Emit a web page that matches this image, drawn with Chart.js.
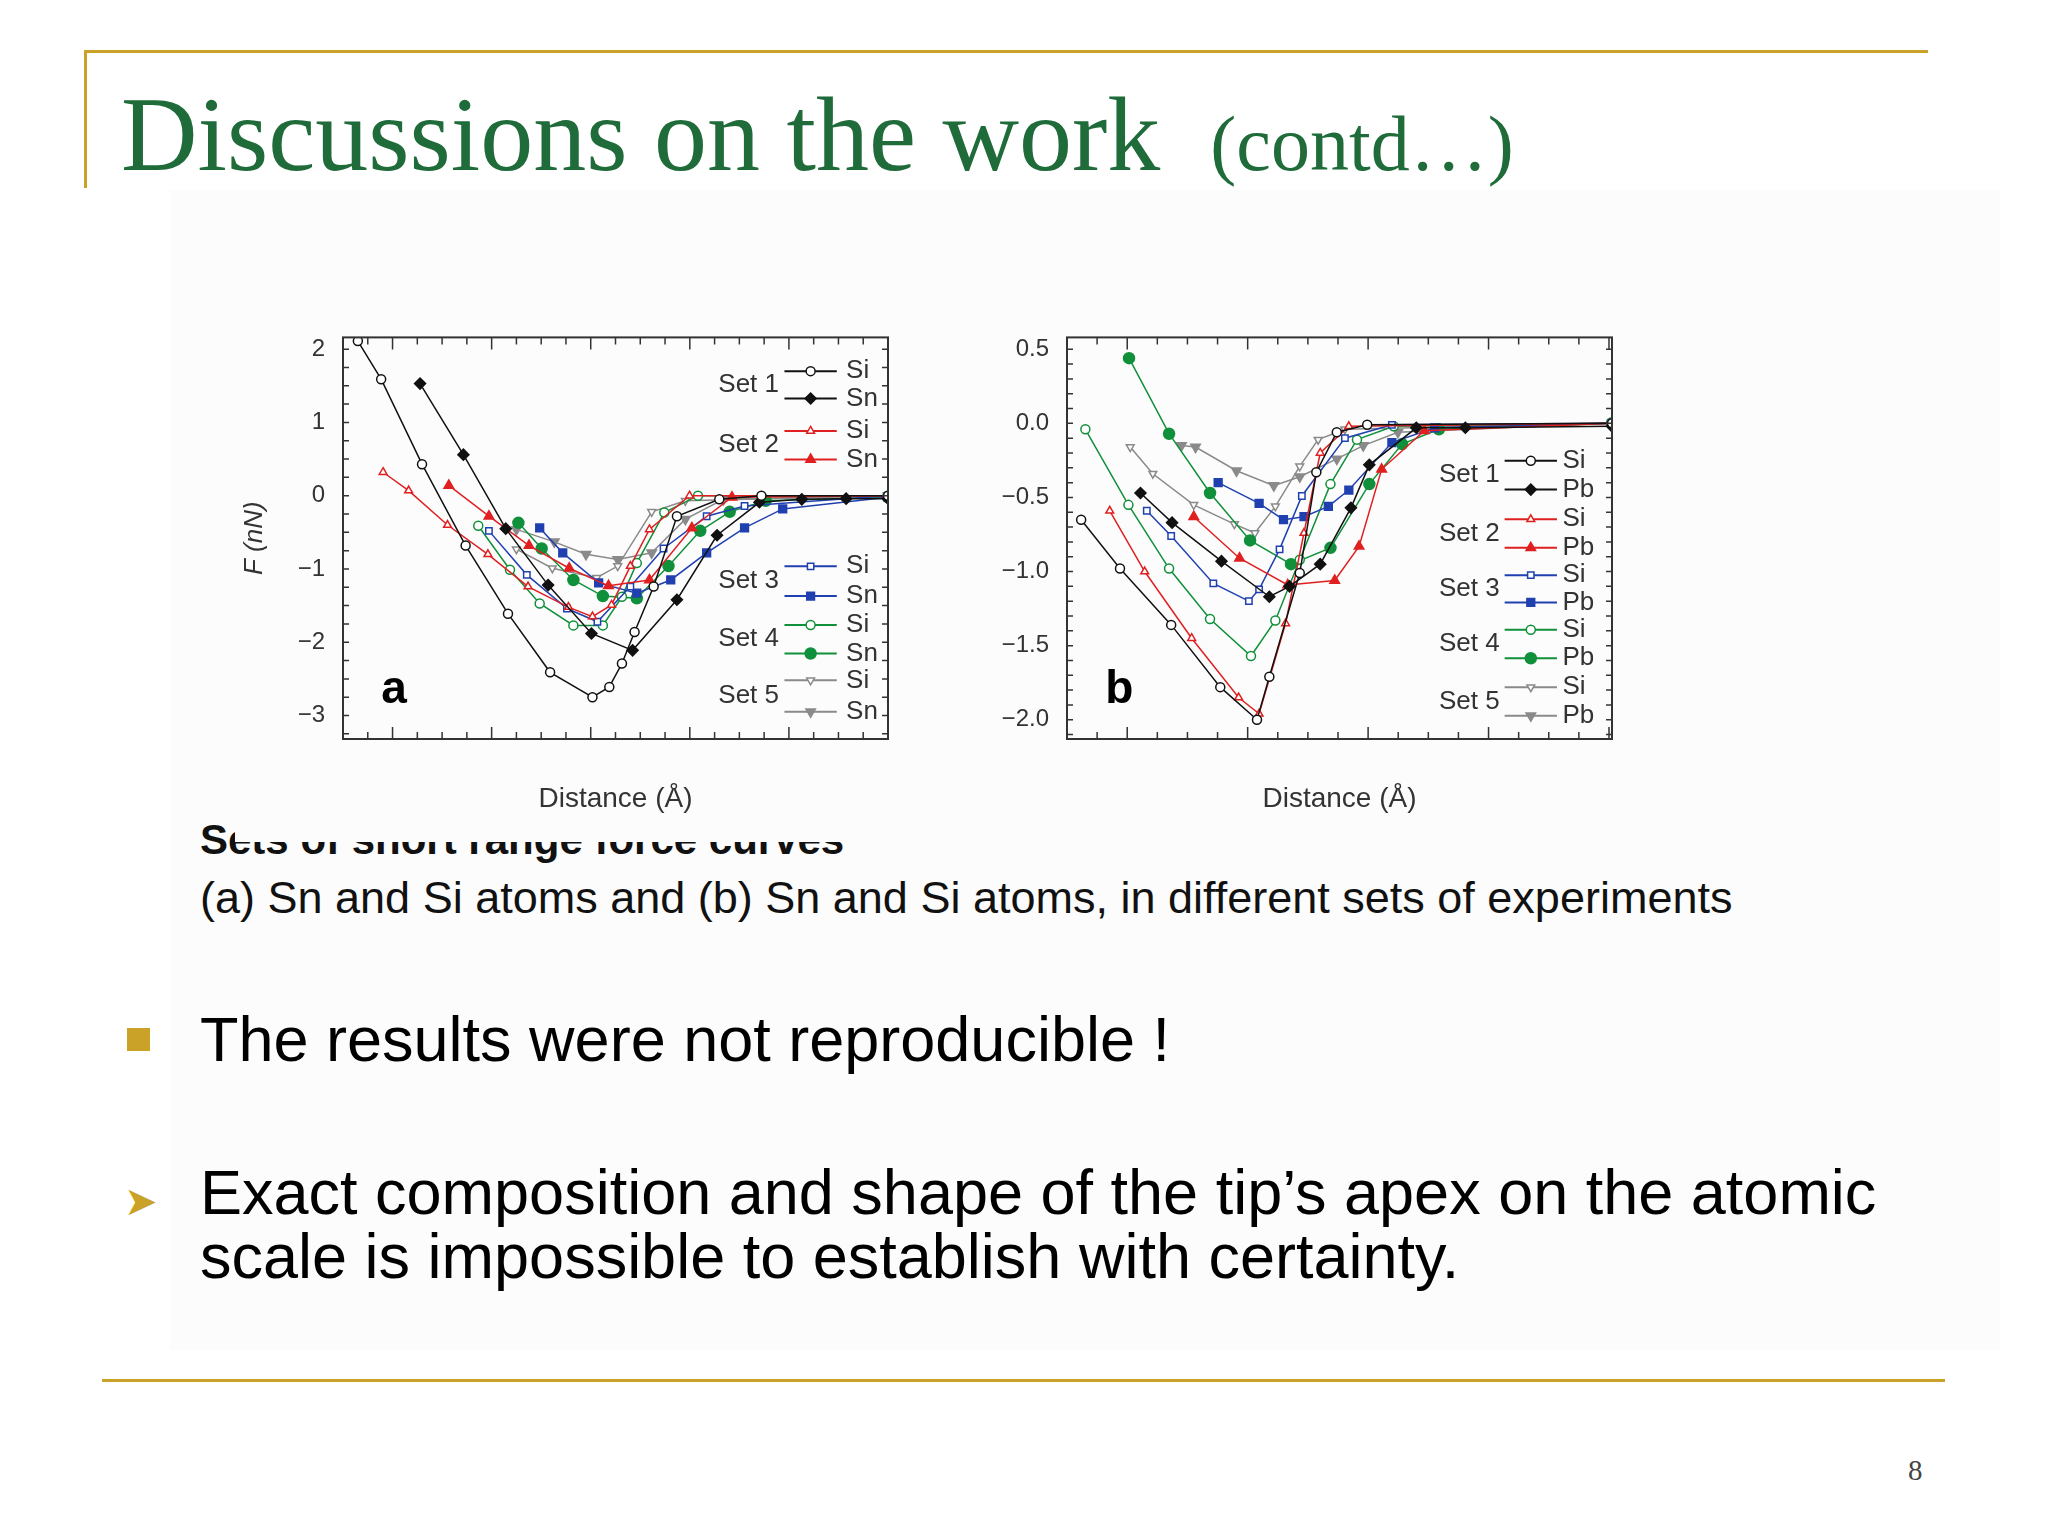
<!DOCTYPE html>
<html>
<head>
<meta charset="utf-8">
<script src="https://cdn.jsdelivr.net/npm/chart.js@4"></script>
<style>
  body { margin:0; width:2048px; height:1536px; background:#fff; position:relative; overflow:hidden; font-family:"Liberation Sans", Arial, sans-serif; }
  .abs { position:absolute; }
  canvas { background:transparent; }
</style>
</head>
<body>
<div class="abs" style="left:85px;top:50px;width:1843px;height:3px;background:#c9a227"></div>
<div class="abs" style="left:84px;top:50px;width:3px;height:138px;background:#c9a227"></div>
<div class="abs" style="left:121px;top:74px;font-family:'Liberation Serif',serif;color:#1f6b3a;white-space:nowrap">
  <span style="font-size:106px">Discussions on the work</span>
  <span style="font-size:78px;margin-left:46px">(contd…)</span>
</div>
<div class="abs" style="left:170px;top:190px;width:1830px;height:1160px;background:#fcfcfc"></div>
<div class="abs" style="left:200px;top:816px;font-size:42px;font-weight:bold;color:#111">Sets of short range force curves</div>
<div class="abs" style="left:235px;top:313px;width:690px;height:529px;background:#fcfcfc"></div>
<div class="abs" style="left:985px;top:313px;width:670px;height:529px;background:#fcfcfc"></div>
<div class="abs" style="left:235px;top:313px;width:680px;height:529px"><canvas id="ca"></canvas></div>
<div class="abs" style="left:990px;top:313px;width:650px;height:529px"><canvas id="cb"></canvas></div>
<div class="abs" style="left:200px;top:872px;font-size:45px;color:#111">(a) Sn and Si atoms and (b) Sn and Si atoms, in different sets of experiments</div>
<div class="abs" style="left:127px;top:1028px;width:23px;height:23px;background:#c9a227"></div>
<div class="abs" style="left:200px;top:1003px;font-size:63px;color:#000">The results were not reproducible !</div>
<div class="abs" style="left:124px;top:1178px;font-size:40px;color:#c9a227">&#10148;</div>
<div class="abs" style="left:200px;top:1160px;font-size:63px;line-height:64px;color:#000">Exact composition and shape of the tip’s apex on the atomic<br>scale is impossible to establish with certainty.</div>
<div class="abs" style="left:102px;top:1379px;width:1843px;height:3px;background:#c9a227"></div>
<div class="abs" style="left:1908px;top:1454px;font-family:'Liberation Serif',serif;font-size:29px;color:#444">8</div>
<script>
// panel a: Si / Sn
const a1Si = [[0.6,2.11],[1.54,1.59],[3.19,0.43],[4.95,-0.68],[6.66,-1.61],[8.36,-2.41],[10.07,-2.75],[10.75,-2.61],[11.26,-2.29],[11.77,-1.86],[12.54,-1.24],[13.48,-0.28],[15.19,-0.05],[16.89,0],[22,0]];
const a1Sn = [[3.11,1.53],[4.86,0.56],[6.57,-0.45],[8.28,-1.22],[10.03,-1.88],[11.69,-2.11],[13.48,-1.42],[15.10,-0.54],[16.81,-0.09],[18.52,-0.05],[20.31,-0.04],[22,-0.04]];
const a2Si = [[1.62,0.32],[2.65,0.07],[4.22,-0.40],[5.85,-0.80],[7.47,-1.24],[9.10,-1.52],[10.07,-1.65],[10.84,-1.49],[11.60,-0.96],[12.37,-0.46],[13.99,0],[22,0]];
const a2Sn = [[4.27,0.14],[5.89,-0.28],[7.51,-0.68],[9.13,-0.99],[10.72,-1.23],[12.37,-1.15],[14.08,-0.44],[15.70,-0.02],[22,0]];
const a3Si = [[5.89,-0.48],[7.42,-1.08],[9.04,-1.54],[10.27,-1.72],[11.60,-1.24],[12.94,-0.72],[14.68,-0.28],[16.21,-0.14],[22,0]];
const a3Sn = [[7.94,-0.44],[8.87,-0.78],[10.32,-1.19],[11.86,-1.33],[13.23,-1.15],[14.68,-0.78],[16.21,-0.44],[17.75,-0.18],[22,-0.02]];
const a4Si = [[5.46,-0.41],[6.74,-1.01],[7.94,-1.47],[9.30,-1.77],[10.49,-1.77],[11.26,-1.38],[11.86,-0.92],[12.97,-0.23],[14.33,0],[22,0]];
const a4Sn = [[7.08,-0.37],[8.02,-0.72],[9.30,-1.15],[10.49,-1.37],[11.86,-1.40],[13.14,-0.96],[14.42,-0.48],[15.61,-0.22],[17.06,-0.07],[22,-0.02]];
const a5Si = [[7.0,-0.73],[8.45,-0.99],[10.24,-1.12],[11.09,-0.96],[12.46,-0.22],[13.82,-0.07],[22,0]];
const a5Sn = [[7.0,-0.46],[8.53,-0.63],[9.81,-0.80],[11.09,-0.87],[12.46,-0.78],[13.82,-0.32],[15.36,-0.05],[22,0]];
// panel b: Si / Pb
const b1Si = [[0.47,-0.65],[1.76,-0.98],[3.46,-1.36],[5.09,-1.78],[6.31,-2.0],[6.72,-1.71],[7.73,-1.01],[8.28,-0.33],[8.96,-0.06],[9.97,-0.01],[18.1,0]];
const b1Pb = [[2.44,-0.47],[3.49,-0.67],[5.13,-0.93],[6.72,-1.17],[7.39,-1.10],[8.41,-0.95],[9.43,-0.57],[10.04,-0.28],[11.60,-0.03],[13.23,-0.03],[18.1,-0.02]];
const b2Si = [[1.42,-0.59],[2.58,-1.0],[4.14,-1.45],[5.70,-1.85],[6.38,-1.96],[7.26,-1.35],[7.87,-0.74],[8.41,-0.20],[9.36,-0.02],[18.1,0]];
const b2Pb = [[4.21,-0.63],[5.73,-0.91],[7.33,-1.09],[8.89,-1.06],[9.70,-0.83],[10.45,-0.31],[11.87,-0.05],[18.1,0]];
const b3Si = [[2.65,-0.59],[3.46,-0.76],[4.86,-1.08],[6.04,-1.2],[6.38,-1.12],[7.06,-0.85],[7.80,-0.49],[9.23,-0.10],[10.79,-0.01],[18.1,0]];
const b3Pb = [[5.02,-0.40],[6.38,-0.54],[7.19,-0.65],[7.87,-0.63],[8.68,-0.56],[9.36,-0.45],[10.79,-0.13],[12.21,-0.03],[18.1,0]];
const b4Si = [[0.61,-0.04],[2.04,-0.55],[3.39,-0.98],[4.75,-1.32],[6.11,-1.57],[6.92,-1.33],[7.73,-0.92],[8.75,-0.41],[9.63,-0.11],[10.85,-0.02],[18.1,0]];
const b4Pb = [[2.06,0.44],[3.39,-0.07],[4.75,-0.47],[6.08,-0.79],[7.44,-0.95],[8.75,-0.84],[10.04,-0.41],[11.13,-0.14],[12.35,-0.04],[18.1,0]];
const b5Si = [[2.10,-0.16],[2.85,-0.34],[4.21,-0.55],[5.56,-0.68],[6.24,-0.74],[6.92,-0.56],[7.73,-0.29],[8.34,-0.11],[9.23,-0.04],[18.1,0]];
const b5Pb = [[3.80,-0.15],[4.27,-0.16],[5.63,-0.32],[6.87,-0.42],[7.73,-0.36],[8.96,-0.24],[9.84,-0.15],[10.99,-0.06],[18.1,0]];

const setNames = ['Set 1','Set 2','Set 3','Set 4','Set 5'];
const yTicksA = [2,1,0,-1,-2,-3];
const yTicksB = [0.5,0.0,-0.5,-1.0,-1.5,-2.0];

const colors = ['#111111','#e02020','#2040b0','#10903a','#8a8a8a'];
const openMarks = ['circle','triangle','rect','circle','triangle'];
const filledMarks = ['rectRot','triangle','rect','circle','triangle'];

function ds(arr, i, filled, label) {
  const c = colors[i];
  const down = i === 4;
  return {
    label: label,
    data: arr.map(p => ({x:p[0], y:p[1]})),
    borderColor: c, borderWidth: 1.5,
    pointStyle: filled ? filledMarks[i] : openMarks[i],
    pointRotation: down ? 180 : 0,
    pointRadius: filled ? 5.5 : 4.5,
    pointBackgroundColor: filled ? c : '#fff',
    pointBorderColor: c, pointBorderWidth: 1.5,
    tension: 0
  };
}

const font = {family:'"Liberation Sans", Arial, sans-serif'};

function legendPlugin(rows, letter, lx, ly, xLabel, xLine0, xLine1, xText) {
  return {
    id: 'inner' + letter,
    afterDraw(chart) {
      const ctx = chart.ctx, a = chart.chartArea;
      const w = a.right - a.left, h = a.bottom - a.top;
      ctx.save();
      // frame and inside ticks
      ctx.strokeStyle = '#333'; ctx.lineWidth = 2;
      ctx.strokeRect(a.left, a.top, w, h);
      const xs = chart.scales.x, ys = chart.scales.y;
      ctx.lineWidth = 1.5;
      for (let v = Math.ceil(xs.min); v <= xs.max; v++) {
        const px = xs.getPixelForValue(v), len = v % 4 === 2 ? 12 : 7;
        ctx.beginPath(); ctx.moveTo(px, a.bottom); ctx.lineTo(px, a.bottom - len);
        ctx.moveTo(px, a.top); ctx.lineTo(px, a.top + len); ctx.stroke();
      }
      const step = chart.canvas.id === 'ca' ? 0.25 : 0.1;
      for (let v = Math.ceil(ys.min / step) * step; v <= ys.max; v += step) {
        const py = ys.getPixelForValue(v);
        ctx.beginPath(); ctx.moveTo(a.left, py); ctx.lineTo(a.left + 6, py);
        ctx.moveTo(a.right, py); ctx.lineTo(a.right - 6, py); ctx.stroke();
      }
      // legend
      ctx.font = '26px "Liberation Sans Narrow", "Liberation Sans", Arial';
      ctx.textBaseline = 'middle';
      const names = chart.data.datasets.map(d => d.label);
      chart.data.datasets.forEach((d, k) => {
        const y = a.top + rows[k] * h;
        ctx.strokeStyle = d.borderColor; ctx.lineWidth = 2;
        ctx.beginPath(); ctx.moveTo(a.left + xLine0 * w, y); ctx.lineTo(a.left + xLine1 * w, y); ctx.stroke();
        ctx.fillStyle = d.pointBackgroundColor; ctx.strokeStyle = d.borderColor; ctx.lineWidth = 1.5;
        Chart.helpers.drawPoint(ctx, {pointStyle: d.pointStyle, rotation: d.pointRotation, radius: d.pointRadius, borderWidth: 1.5},
          a.left + (xLine0 + xLine1) / 2 * w, y);
        ctx.fillStyle = '#333'; ctx.textAlign = 'left';
        ctx.fillText(names[k], a.left + xText * w, y);
        if (k % 2 === 0) {
          ctx.textAlign = 'right';
          ctx.fillText(setNames[k / 2], a.left + xLabel * w, (y + a.top + rows[k + 1] * h) / 2);
        }
      });
      ctx.fillStyle = '#000'; ctx.textAlign = 'left';
      ctx.font = 'bold 46px "Liberation Sans", Arial';
      ctx.fillText(letter, a.left + lx * w, a.top + ly * h);
      ctx.restore();
    }
  };
}

function makeChart(id, sets, names, xmax, ymin, ymax, yticks, yTitle, yWidth, rows, letter, pad) {
  const datasets = [];
  sets.forEach((pair, i) => {
    datasets.push(ds(pair[0], i, false, names[0]));
    datasets.push(ds(pair[1], i, true, names[1]));
  });
  return new Chart(document.getElementById(id), {
    type: 'line',
    data: {datasets: datasets},
    options: {
      responsive: true, maintainAspectRatio: false, animation: false,
      layout: {padding: {top: 23, right: pad}},
      plugins: {legend: {display: false}, tooltip: {enabled: false}},
      scales: {
        x: {
          type: 'linear', min: 0, max: xmax,
          grid: {display: false}, border: {display: false},
          ticks: {display: false},
          title: {display: true, text: 'Distance (Å)', color: '#333', font: {...font, size: 28}, padding: {top: 40, bottom: 26}},
          afterFit: s => { s.height = 103; }
        },
        y: {
          min: ymin, max: ymax,
          grid: {display: false}, border: {display: false},
          afterBuildTicks: s => { s.ticks = yticks.map(v => ({value: v})); },
          ticks: {color: '#333', font: {...font, size: 24}, padding: 10,
            callback: v => (yTitle ? String(v) : v.toFixed(1)).replace('-', '−')},
          title: {display: !!yTitle, text: yTitle, color: '#333', font: {...font, size: 26, style: 'italic'}},
          afterFit: s => { s.width = yWidth; }
        }
      }
    },
    plugins: [legendPlugin(rows, letter, 0.07, 0.88, ...(letter === 'a' ? [0.8, 0.81, 0.906, 0.923] : [0.794, 0.803, 0.899, 0.909]))]
  });
}

makeChart('ca', [[a1Si,a1Sn],[a2Si,a2Sn],[a3Si,a3Sn],[a4Si,a4Sn],[a5Si,a5Sn]], ['Si','Sn'], 22, -3.32, 2.16, yTicksA, 'F (nN)', 108,
  [0.084,0.152,0.233,0.304,0.570,0.644,0.716,0.787,0.854,0.932], 'a', 27);
makeChart('cb', [[b1Si,b1Pb],[b2Si,b2Pb],[b3Si,b3Pb],[b4Si,b4Pb],[b5Si,b5Pb]], ['Si','Pb'], 18.1, -2.13, 0.58, yTicksB, '', 77,
  [0.307,0.379,0.453,0.524,0.592,0.660,0.728,0.799,0.871,0.942], 'b', 28);
</script>
</body>
</html>
